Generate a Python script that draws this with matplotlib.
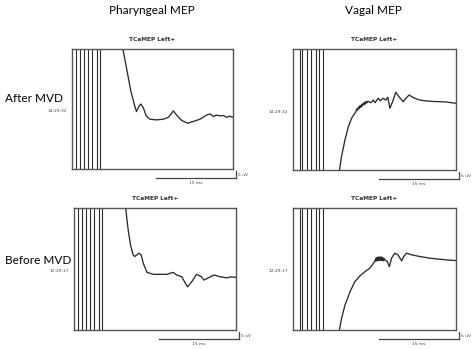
import matplotlib
matplotlib.use("Agg")
import matplotlib.pyplot as plt

# Column / row labels
col_titles = ["Pharyngeal MEP", "Vagal MEP"]
row_titles = ["After MVD", "Before MVD"]
clock_labels = [["14:29:32", "14:29:32"], ["12:29:17", "12:29:17"]]
panel_title = "TCaMEP Left+"

# Traces, time in ms, amplitude in uV
after_phar_t = [8.6, 9.6, 10.3, 11.0, 11.8, 12.1, 12.5, 12.9, 13.4, 13.9, 14.6, 15.9,
                17.1, 18.1, 18.6, 19.0, 19.6, 20.6, 21.7, 22.7, 24.0, 25.3, 25.9,
                26.5, 27.1, 27.75, 28.4, 29.0, 29.6, 30.2]
after_phar_v = [53, 42.5, 28.1, 13.7, 1.7, -1.9, 1.5, 3.6, 0.7, -5.0, -7.4, -7.9,
                -7.4, -6.0, -3.5, -1.4, -4.3, -8.4, -10.3, -9.1, -7.4, -4.3, -3.6,
                -5.5, -4.4, -5.0, -4.7, -6.0, -5.2, -6.0]

after_vag_t = [8.6, 9.1, 9.75, 10.4, 11.0, 11.8, 12.0, 12.1, 12.3, 12.4, 12.6, 12.7,
               12.9, 13.0, 13.2, 13.3, 13.5, 13.6, 13.8, 13.9, 14.1, 14.6, 15.1, 15.4,
               16.0, 16.4, 16.9, 17.4, 17.8, 18.2, 18.7, 19.3, 19.9, 20.7, 21.2, 21.8,
               22.6, 23.8, 25.1, 26.25, 27.6, 28.8, 29.7, 30.6]
after_vag_v = [-47, -34.0, -22.0, -12.4, -6.3, -1.6, 0.5, -0.5, 1.8, 0.6, 2.8, 1.5,
               3.6, 2.4, 4.6, 3.4, 5.3, 4.0, 5.9, 4.8, 5.9, 4.9, 6.8, 4.9,
               8.1, 6.3, 8.1, 6.8, 8.8, 0.9, 5.6, 12.4, 9.2, 5.6, 8.1, 10.4,
               8.5, 6.8, 6.1, 5.8, 5.6, 5.4, 4.9, 4.5]

before_phar_t = [9.2, 9.7, 9.9, 10.2, 10.6, 11.1, 11.4, 12.2, 12.6, 13.0, 13.7, 14.9,
                 16.1, 17.4, 18.6, 19.3, 20.2, 21.3, 22.1, 23.0, 23.9, 24.4, 25.2,
                 26.25, 27.4, 28.6, 29.5, 30.4]
before_phar_v = [53, 43.7, 36.5, 26.9, 17.3, 10.1, 8.9, 11.3, 10.1, 4.1, -2.4, -3.8,
                 -3.8, -3.8, -2.4, -4.3, -5.5, -12.7, -9.1, -3.8, -5.5, -7.9, -6.3,
                 -4.3, -5.5, -6.3, -5.6, -6.0]

before_vag_t = [8.5, 8.7, 9.1, 9.75, 10.7, 11.6, 12.6, 13.5, 14.4, 15.1, 15.4, 15.5,
                15.6, 15.7, 15.8, 15.9, 16.0, 16.1, 16.2, 16.3, 16.4, 16.5, 16.6, 16.7,
                16.8, 16.9, 17.0, 17.1, 17.25, 17.7, 18.1, 18.5, 19.1, 19.7, 20.4, 20.8,
                21.3, 22.3, 23.8, 25.7, 28.8, 30.6]
before_vag_v = [-51, -43.9, -35.5, -25.9, -16.3, -9.1, -4.8, -1.9, 0.5, 4.1, 5.8, 7.5,
                5.6, 8.0, 6.0, 8.4, 6.2, 8.6, 6.1, 8.3, 6.4, 8.7, 6.0, 8.2,
                6.3, 7.9, 5.9, 7.4, 6.5, 5.3, 1.7, 7.7, 11.3, 10.1, 5.8, 8.9,
                11.3, 10.1, 8.9, 7.7, 6.5, 6.0]

# stimulus artefact lines (ms)
artefact_phar = [0.75, 1.5, 2.25, 3.05, 3.8, 4.6, 5.3]
artefact_vag = [1.3, 1.6, 2.7, 3.4, 4.25, 4.9, 5.7]

traces = [[(after_phar_t, after_phar_v), (after_vag_t, after_vag_v)],
          [(before_phar_t, before_phar_v), (before_vag_t, before_vag_v)]]
artefacts = [artefact_phar, artefact_vag]
x_spans = [[30.2, 30.6], [30.4, 30.6]]

# axes boxes in figure fraction [left, bottom, width, height]
boxes = [[[0.1519, 0.5158, 0.3397, 0.3438], [0.6181, 0.5129, 0.3439, 0.3467]],
         [[0.1561, 0.0544, 0.3418, 0.3496], [0.6181, 0.0544, 0.3439, 0.3496]]]

ylim = 43.5
line_col = "#2b2b2b"

fig = plt.figure(figsize=(4.74, 3.49), dpi=100)

for r in range(2):
    for c in range(2):
        ax = fig.add_axes(boxes[r][c])
        t, v = traces[r][c]
        ax.plot(t, v, color=line_col, lw=0.95)
        for xa in artefacts[c]:
            ax.axvline(xa, color=line_col, lw=0.8)
        xmax = x_spans[r][c]
        ax.set_xlim(0, xmax)
        ax.set_ylim(-ylim, ylim)
        ax.set_xticks([])
        ax.set_yticks([])
        for s in ax.spines.values():
            s.set_color("#555555")
            s.set_linewidth(1.0)
        ax.set_title(panel_title, fontsize=4.2, fontweight="bold", pad=6,
                     color="#333333")
        ax.text(-0.03, 0.48, clock_labels[r][c], transform=ax.transAxes,
                fontsize=3.2, ha="right", va="center", color="#444444")
        # scale bar: 15 ms / 5 uV
        xb = xmax + 0.5
        yb = -ylim - 6.5
        ax.plot([xb - 15, xb], [yb, yb], color="#444444", lw=0.9, clip_on=False)
        ax.plot([xb, xb], [yb, yb + 5], color="#444444", lw=0.9, clip_on=False)
        ax.text(xb + 0.4, yb + 2.5, "5 uV", fontsize=3.2, va="center", ha="left",
                color="#444444")
        ax.text(xb - 7.5, yb - 2.2, "15 ms", fontsize=3.2, va="top", ha="center",
                color="#444444")

# column and row headers
fig.text(152 / 474, 1 - 10 / 349, col_titles[0], fontsize=8.5, family="Lato",
         ha="center", va="center")
fig.text(373 / 474, 1 - 10 / 349, col_titles[1], fontsize=8.5, family="Lato",
         ha="center", va="center")
fig.text(5 / 474, 1 - 99 / 349, row_titles[0], fontsize=8.5, family="Lato",
         ha="left", va="center")
fig.text(5 / 474, 1 - 260 / 349, row_titles[1], fontsize=8.5, family="Lato",
         ha="left", va="center")

fig.savefig("out.png", dpi=100, facecolor="white")
